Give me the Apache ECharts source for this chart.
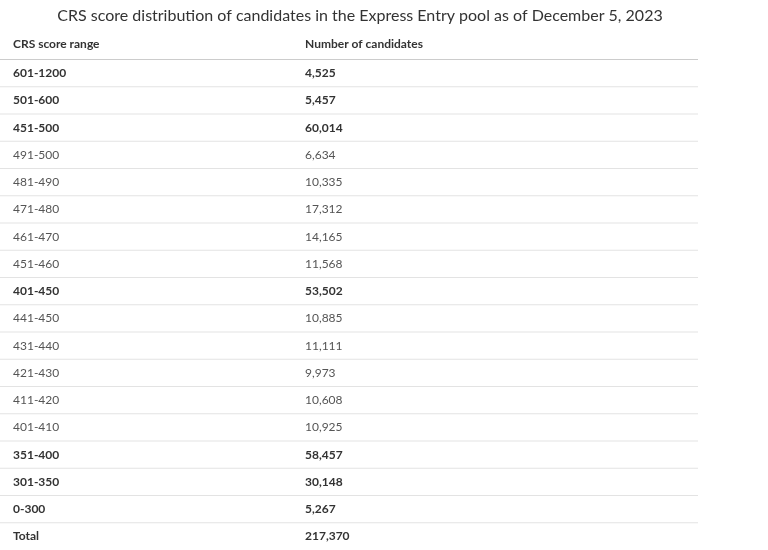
<!DOCTYPE html>
<html><head><meta charset="utf-8">
<script src="https://cdn.jsdelivr.net/npm/echarts@6/dist/echarts.min.js"></script>
<style>html,body{margin:0;background:#fff}#main{width:768px;height:550px}</style>
</head><body><div id="main"></div>
<script>
var ranges = ['601-1200','501-600','451-500','491-500','481-490','471-480','461-470','451-460','401-450','441-450','431-440','421-430','411-420','401-410','351-400','301-350','0-300','Total'];
var counts = ['4,525','5,457','60,014','6,634','10,335','17,312','14,165','11,568','53,502','10,885','11,111','9,973','10,608','10,925','58,457','30,148','5,267','217,370'];
var boldRows = [1,1,1,0,0,0,0,0,1,0,0,0,0,0,1,1,1,1];

var chart = echarts.init(document.getElementById('main'));
var font = 'Lato, "Open Sans", sans-serif';
chart.setOption({
  animation: false,
  title: {
    text: 'CRS score distribution of candidates in the Express Entry pool as of December 5, 2023',
    left: 355, textAlign: 'center', top: 3,
    textStyle: {fontSize: 16, fontWeight: 'normal', color: '#333', fontFamily: font}
  },
  graphic: [
    {type: 'text', left: 13, top: 38, style: {text: 'CRS score range', font: 'bold 12px ' + font, fill: '#333'}},
    {type: 'text', left: 305, top: 38, style: {text: 'Number of candidates', font: 'bold 12px ' + font, fill: '#333'}}
  ],
  grid: {left: 0, right: 70, top: 59.5, bottom: -6},
  xAxis: {type: 'value', min: 0, max: 1, show: false},
  yAxis: {type: 'category', data: ranges, inverse: true, show: false},
  series: [{
    type: 'custom',
    data: ranges.map(function (r, i) { return [0, i]; }),
    renderItem: function (params, api) {
      var i = api.value(1);
      var p = api.coord([0, i]);
      var band = api.size([0, 1])[1];
      var w = params.coordSys.width;
      var b = boldRows[i];
      var st = {font: (b ? 'bold ' : '') + '12px ' + font, fill: b ? '#333' : '#555', textVerticalAlign: 'middle'};
      return {type: 'group', children: [
        {type: 'line', shape: {x1: p[0], y1: p[1] - band / 2, x2: p[0] + w, y2: p[1] - band / 2},
         style: {stroke: i === 0 ? '#ccc' : '#e3e3e3', lineWidth: 1}},
        {type: 'text', style: Object.assign({text: ranges[i], x: 13, y: p[1]}, st)},
        {type: 'text', style: Object.assign({text: counts[i], x: 305, y: p[1]}, st)}
      ]};
    }
  }]
});
</script></body></html>
